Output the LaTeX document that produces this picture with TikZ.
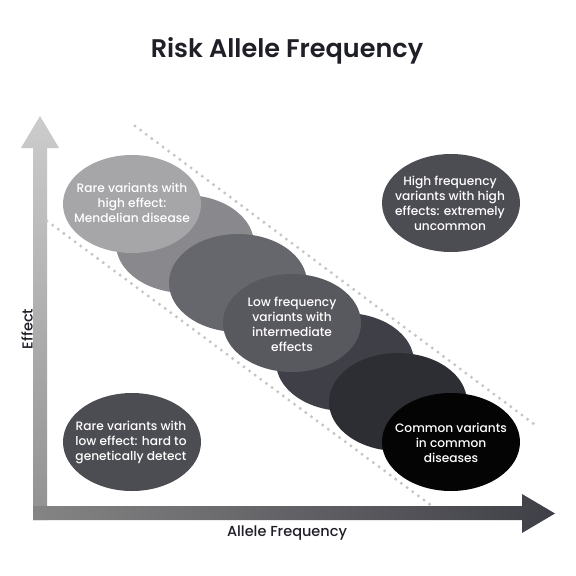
\documentclass[tikz,border=0pt]{standalone}
\usepackage{fontspec}
\setmainfont{Poppins}
\newfontfamily\medfont{Poppins Medium}
\newfontfamily\semifont{Poppins SemiBold}

\definecolor{inkdark}{HTML}{1F1F28}
\definecolor{dotgray}{HTML}{C6C6C8}
\definecolor{shadeA}{HTML}{A6A6A9}
\definecolor{shadeB}{HTML}{88888D}
\definecolor{shadeC}{HTML}{66666D}
\definecolor{shadeD}{HTML}{58585F}
\definecolor{shadeE}{HTML}{3F3F47}
\definecolor{shadeF}{HTML}{2D2D34}
\definecolor{shadeG}{HTML}{040404}
\definecolor{shadeOut}{HTML}{4C4C53}

\begin{document}
\begin{tikzpicture}[x=1pt, y=-1pt,
    txt/.style={text=white, align=center, inner sep=0pt, font=\medfont\fontsize{12.2}{15}\selectfont},
    dots/.style={draw=dotgray, line width=3.3pt, line cap=round, dash pattern=on 0pt off 7pt}]

    % Page frame
    \fill[white] (0,0) rectangle (576,576);
    \useasboundingbox (0,0) rectangle (576,576);

    % Title
    \node[anchor=base, text=inkdark, font=\semifont\fontsize{25.5}{30}\selectfont] (title) at (287,57) {Risk Allele Frequency};

    % Draw the vertical axis (light at the top)
    \shade[top color=gray!40, bottom color=gray!85!black!75] (33,520) -- (33,148) -- (21,148) -- (40,116) -- (59,148) -- (47,148) -- (47,520) -- cycle;
    \node[anchor=base, rotate=90, text=inkdark, font=\medfont\fontsize{14.5}{16}\selectfont] (effect) at (32.5,329) {Effect};

    % Draw the horizontal axis (dark at the tip)
    \shade[left color=gray!80!black!80, right color=shadeE] (33,506) -- (522,506) -- (522,494) -- (555,513.5) -- (522,533) -- (522,520) -- (33,520) -- cycle;
    \node[anchor=base, text=inkdark, font=\medfont\fontsize{14.5}{16}\selectfont] (freq) at (287,536) {Allele Frequency};

    % Dotted band along the diagonal
    \coordinate (upA) at (135,126);
    \coordinate (upB) at (538,427);
    \coordinate (loA) at (47,221);
    \coordinate (loB) at (432,506);
    \draw[dots] (upA) -- (upB);
    \draw[dots] (loA) -- (loB);

    % Draw the chain of ellipses, from light to dark
    \fill[shadeB] (185,244) ellipse (69pt and 49pt);
    \fill[shadeA] (132,204) ellipse (69pt and 49pt);
    \node[txt] (mendel) at (132,203) {Rare variants with\\high effect:\\Mendelian disease};
    \fill[shadeC] (238,283) ellipse (69pt and 49pt);
    \fill[shadeE] (345,362) ellipse (69pt and 49pt);
    \fill[shadeD] (292,323) ellipse (69pt and 49pt);
    \node[txt] (lowfreq) at (292,324) {Low frequency\\variants with\\intermediate\\effects};
    \fill[shadeF] (398,402) ellipse (69pt and 49pt);
    \fill[shadeG] (451,442) ellipse (69pt and 49pt);
    \node[txt] (common) at (451,443) {Common variants\\in common\\diseases};

    % The two corners off the diagonal
    \fill[shadeOut] (451,203) ellipse (69pt and 49pt);
    \node[txt] (highfreq) at (450,203) {High frequency\\variants with high\\effects: extremely\\uncommon};
    \fill[shadeOut] (132,442) ellipse (69pt and 49pt);
    \node[txt] (loweff) at (131,442) {Rare variants with\\low effect: hard to\\genetically detect};

\end{tikzpicture}
\end{document}
